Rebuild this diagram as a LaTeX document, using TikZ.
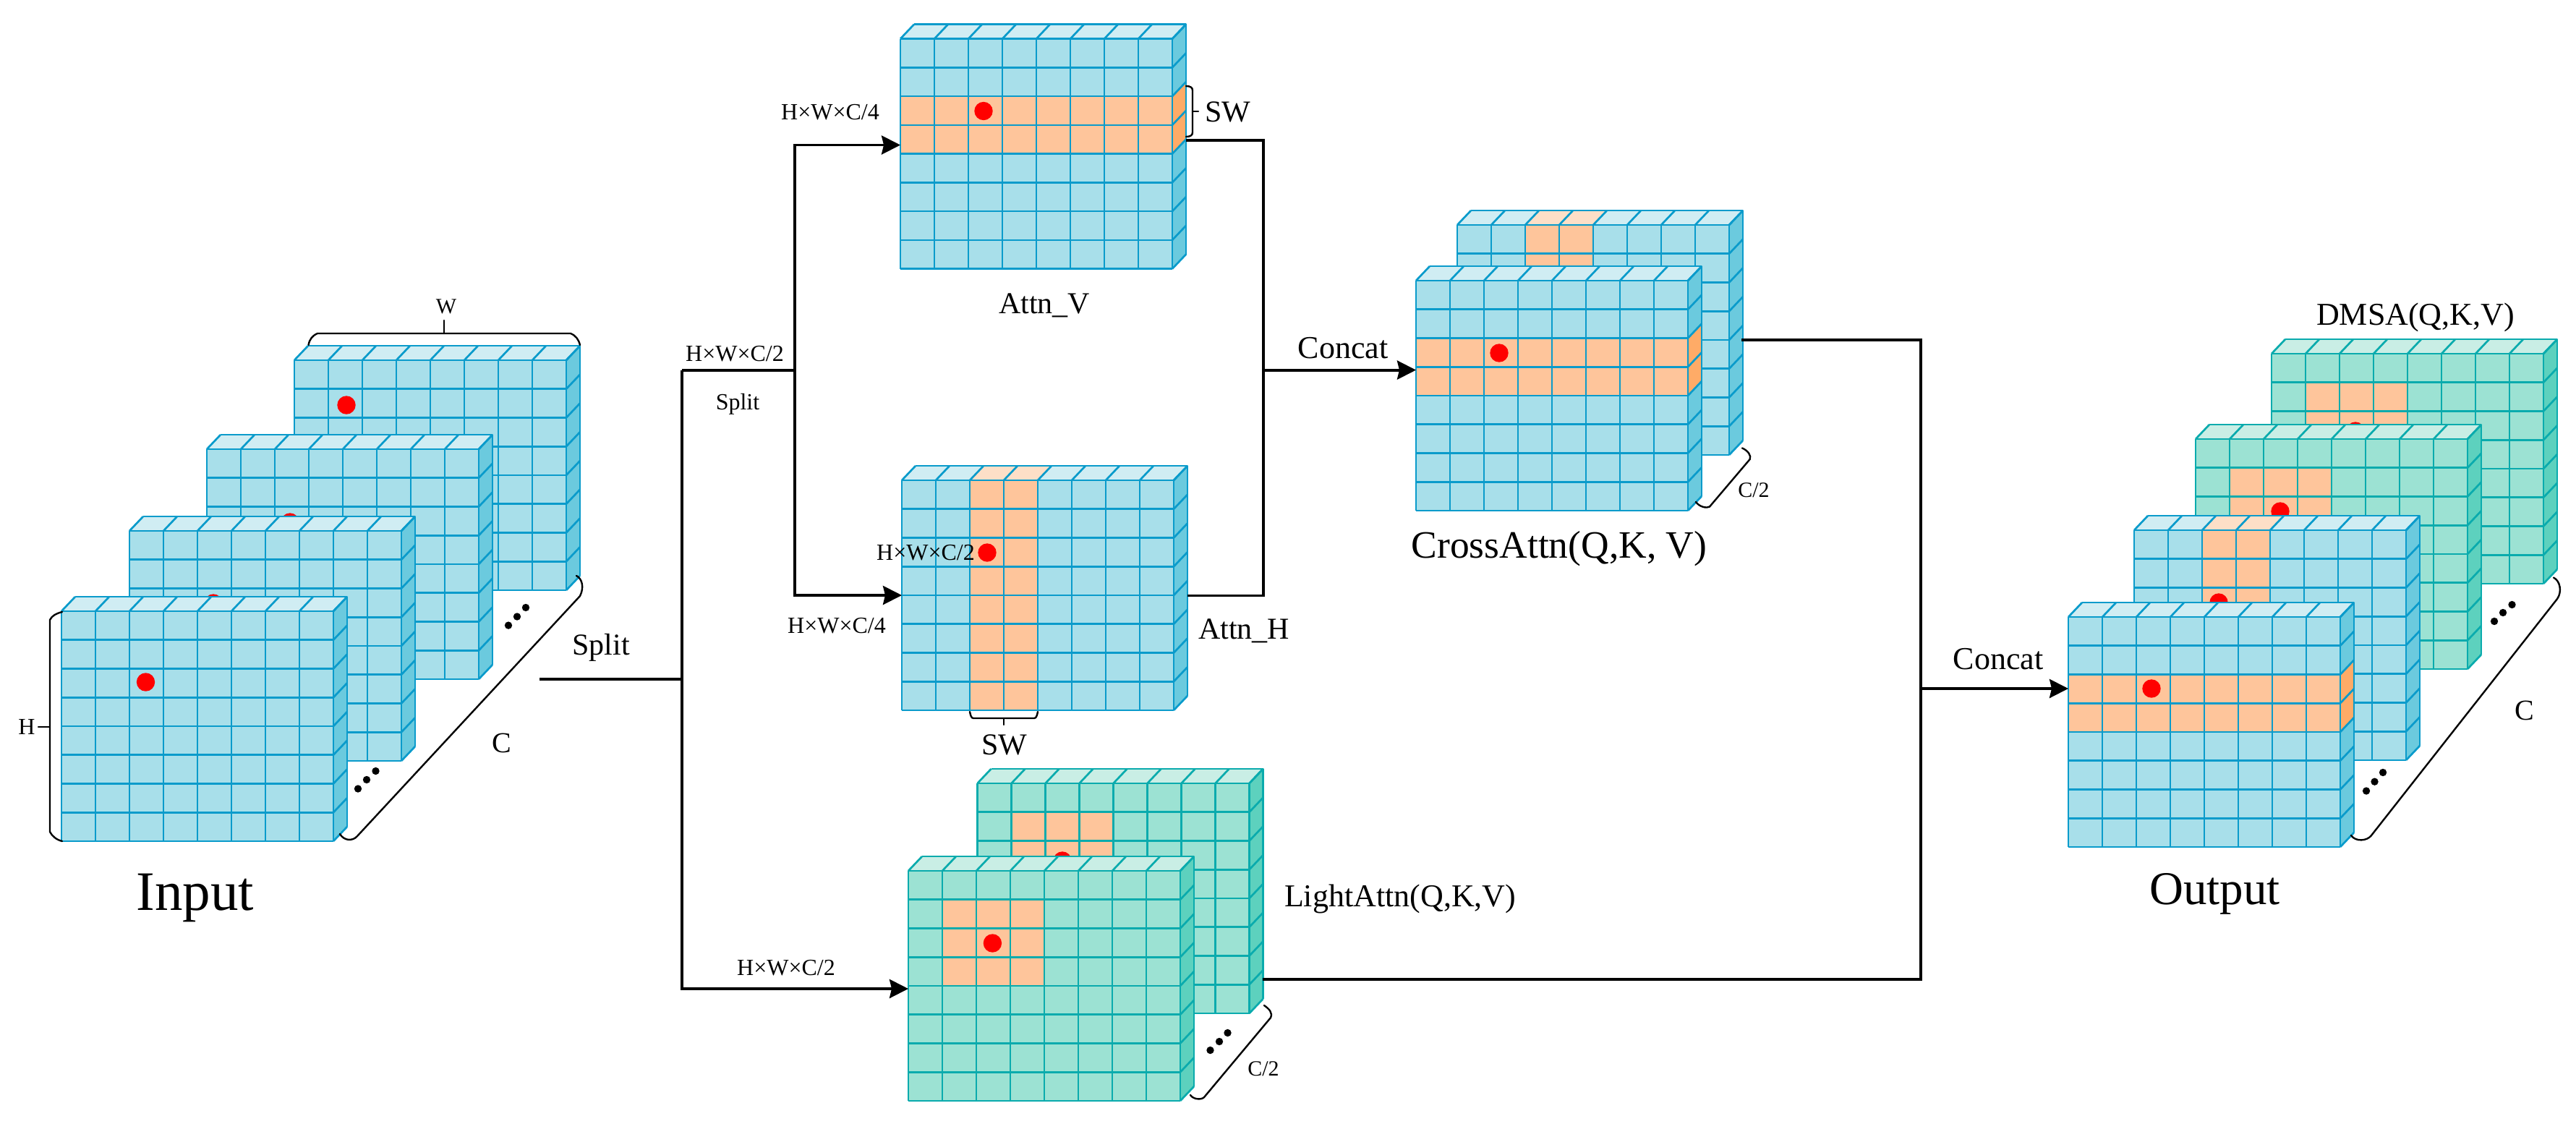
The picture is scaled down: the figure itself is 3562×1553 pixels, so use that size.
\documentclass[tikz,border=0pt]{standalone}
\usepackage{fontspec}
\setmainfont{Liberation Serif}
\usetikzlibrary{arrows.meta}
\definecolor{blueline}{HTML}{0A9BCB}
\definecolor{blueface}{HTML}{A8DFEA}
\definecolor{bluetop}{HTML}{D0EDF3}
\definecolor{blueside}{HTML}{6BCADE}
\definecolor{tealline}{HTML}{0AABAD}
\definecolor{tealface}{HTML}{9CE2D3}
\definecolor{tealtop}{HTML}{C9EEE5}
\definecolor{tealside}{HTML}{5DD1BE}
\definecolor{orface}{HTML}{FEC59B}
\definecolor{ortop}{HTML}{FDDFC7}
\definecolor{orside}{HTML}{FEAB67}
\tikzset{
  slabfront/.style={rectangle,inner sep=0pt,outer sep=0pt,minimum width=376pt,minimum height=318pt,anchor=north west},
  gridl/.style={line width=2.7pt,line join=round},
  dotred/.style={fill={rgb,255:red,255;green,0;blue,0}},
  dotblack/.style={fill=black},
  conn/.style={line width=3.9pt,line join=miter,draw=black},
  connarrow/.style={conn,-{Stealth[length=26pt,width=26pt,inset=3pt]}},
  bracel/.style={line width=2.4pt,draw=black,line cap=round},
  txt/.style={inner sep=0pt,outer sep=0pt,anchor=base,text=black},
  fs30/.style={txt,font=\fontsize{30}{30}\selectfont},
  fs32/.style={txt,font=\fontsize{32}{32}\selectfont},
  fs40/.style={txt,font=\fontsize{40}{40}\selectfont},
  fs42/.style={txt,font=\fontsize{42}{42}\selectfont},
  fs44/.style={txt,font=\fontsize{44}{44}\selectfont},
  fs53/.style={txt,font=\fontsize{53.5}{53.5}\selectfont},
  fs65/.style={txt,font=\fontsize{65}{65}\selectfont},
  fs77/.style={txt,font=\fontsize{77}{77}\selectfont},
}
% name, x, y, palette, c1, c2, r1, r2 (orange block; c2<c1 means none)
\newcommand{\slabdraw}[8]{%
  \colorlet{lnc}{#4line}\colorlet{fcc}{#4face}\colorlet{tpc}{#4top}\colorlet{sdc}{#4side}%
  \node[slabfront] (#1) at (#2,#3) {};
  \begin{scope}[shift={(#2,#3)}]
    \fill[fcc] (0,0) rectangle (376,318);
    \fill[tpc] (0,0) -- (19,-20) -- (395,-20) -- (376,0) -- cycle;
    \fill[sdc] (376,0) -- (395,-20) -- (395,298) -- (376,318) -- cycle;
    \ifnum#6<#5\relax\else
      \fill[orface] ({#5*47},{#7*39.75}) rectangle ({(#6+1)*47},{(#8+1)*39.75});
      \ifnum#7=0
        \fill[ortop] ({#5*47},0) -- ++(19,-20) -- ({(#6+1)*47+19},-20) -- ({(#6+1)*47},0) -- cycle;
      \fi
      \ifnum#5=0 \ifnum#6=7
        \fill[orside] (376,{#7*39.75}) -- (395,{#7*39.75-20}) -- (395,{(#8+1)*39.75-20}) -- (376,{(#8+1)*39.75}) -- cycle;
      \fi\fi
    \fi
    \foreach \i in {0,...,8} {
      \draw[gridl,draw=lnc] ({\i*47},0) -- ({\i*47},318);
      \draw[gridl,draw=lnc] ({\i*47},0) -- ({\i*47+19},-20);
      \draw[gridl,draw=lnc] (0,{\i*39.75}) -- (376,{\i*39.75});
      \draw[gridl,draw=lnc] (376,{\i*39.75}) -- (395,{\i*39.75-20});
    }
    \draw[gridl,draw=lnc] (19,-20) -- (395,-20) -- (395,298);
  \end{scope}
}
\newcommand{\reddot}[2]{\fill[dotred] (#1,#2) circle[radius=12.7pt];}
\newcommand{\threedots}[6]{%
  \fill[dotblack] (#1,#2) circle[radius=5.2pt];
  \fill[dotblack] (#3,#4) circle[radius=5.2pt];
  \fill[dotblack] (#5,#6) circle[radius=5.2pt];}
\begin{document}
\begin{tikzpicture}[x=1pt,y=-1pt]
\path[use as bounding box] (0,0) rectangle (3562,1553);

% ---------- Input stack
\slabdraw{inD}{407}{498}{blue}{0}{-1}{0}{-1}
\reddot{479}{560}
\slabdraw{inC}{286}{621}{blue}{0}{-1}{0}{-1}
\reddot{401}{722}
\slabdraw{inB}{179}{734}{blue}{0}{-1}{0}{-1}
\reddot{295}{834}
\slabdraw{inA}{85}{845}{blue}{0}{-1}{0}{-1}
\reddot{201.5}{943}
\threedots{727}{840}{715}{852.5}{703}{864.6}
\threedots{519.5}{1066}{507}{1078}{495}{1090.5}
% W brace
\draw[bracel] (426.5,477) .. controls (428,469) and (432,464) .. (439,461) -- (789,461) .. controls (796,464) and (800,469) .. (802,477);
\draw[bracel] (614,461) -- (614,443);
% H brace
\draw[bracel] (86,846) .. controls (78,848) and (72,851) .. (69,857) -- (69,1150) .. controls (72,1156) and (78,1161) .. (86,1163);
\draw[bracel] (69,1005) -- (53,1005);
% C brace
\draw[bracel] (797,796) .. controls (805,800) and (808,812) .. (802,824) -- (494,1156) .. controls (488,1163) and (476,1163) .. (470,1153);
\node[fs30] (tW) at (617,433) {W};
\node[fs32] (tH) at (37,1015) {H};
\node[fs40] (tC) at (693.5,1040) {C};
\node[fs42] (tSplit) at (831,905) {Split};
\node[fs77] (tInput) at (270,1258) {Input};

% ---------- Attn_V
\slabdraw{attnV}{1245}{53.6}{blue}{0}{7}{2}{3}
\reddot{1360}{153.5}
\draw[bracel] (1640,119) .. controls (1646,119) and (1649,121) .. (1649,125) -- (1649,183) .. controls (1649,187) and (1646,189) .. (1640,189);
\draw[bracel] (1649,154) -- (1657,154);
\node[fs42] (tSWa) at (1698,168) {SW};
\node[fs42] (tAttnV) at (1444,433) {Attn\_V};
\node[fs32] (tHWCa) at (1148,165) {H×W×C/4};

% ---------- Attn_H
\slabdraw{attnH}{1247}{664}{blue}{2}{3}{0}{7}
\reddot{1365}{764}
\draw[bracel] (1341,984) .. controls (1342,989) and (1343,993) .. (1346,993) -- (1430,993) .. controls (1433,993) and (1434,989) .. (1435,984);
\draw[bracel] (1388,993) -- (1388,1002);
\node[fs42] (tSWb) at (1389,1043) {SW};
\node[fs42] (tAttnH) at (1720,883) {Attn\_H};
\node[fs32] (tHWCb) at (1280,774) {H×W×C/2};
\node[fs32] (tHWCc) at (1157,875) {H×W×C/4};

% ---------- Light attention
\slabdraw{lightB}{1351.5}{1083}{teal}{1}{3}{1}{3}
\reddot{1469}{1190}
\slabdraw{lightA}{1256}{1204}{teal}{1}{3}{1}{3}
\reddot{1372.4}{1304}
\threedots{1697.5}{1428}{1686}{1440}{1673.5}{1452}
\draw[bracel] (1748,1390) .. controls (1755,1395) and (1760,1400) .. (1757,1407) -- (1665,1517) .. controls (1661,1521) and (1650,1520) .. (1646,1514);
\node[fs30] (tC2a) at (1747,1487) {C/2};
\node[fs44,anchor=base west] (tLight) at (1776,1253) {LightAttn(Q,K,V)};
\node[fs32] (tHWCd) at (1087,1348) {H×W×C/2};

% ---------- Cross attention
\slabdraw{crossB}{2015}{311}{blue}{2}{3}{0}{7}
\slabdraw{crossA}{1958}{388}{blue}{0}{7}{2}{3}
\reddot{2073}{488}
\draw[bracel] (2409,619.5) .. controls (2417,623) and (2422,630) .. (2419.6,635) -- (2364,700.5) .. controls (2360,703) and (2350,701) .. (2345,694);
\node[fs30] (tC2b) at (2425,687) {C/2};
\node[fs53] (tCross) at (2156,771) {CrossAttn(Q,K, V)};
\node[fs44] (tConcatA) at (1857,495.5) {Concat};

% ---------- Output stack
\slabdraw{outD}{3141}{489}{teal}{1}{3}{1}{3}
\reddot{3257}{596}
\slabdraw{outC}{3036}{607}{teal}{1}{3}{1}{3}
\reddot{3153}{707}
\slabdraw{outB}{2951}{733}{blue}{2}{3}{0}{7}
\reddot{3068}{833}
\slabdraw{outA}{2860}{853}{blue}{0}{7}{2}{3}
\reddot{2975}{952}
\threedots{3473.5}{836}{3461}{847}{3449}{859}
\threedots{3295}{1068}{3283.5}{1080.7}{3272}{1093.5}
\draw[bracel] (3531,798.6) .. controls (3540,803) and (3543,818) .. (3536,828) -- (3279,1155) .. controls (3273,1163) and (3257,1164) .. (3251,1155);
\node[fs40] (tCb) at (3491,995.5) {C};
\node[fs44] (tDMSA) at (3340,449.6) {DMSA(Q,K,V)};
\node[fs65] (tOutput) at (3062.5,1250) {Output};
\node[fs44] (tConcatB) at (2763,925) {Concat};

% ---------- Upper split labels
\node[fs32] (tHWCe) at (1016,499) {H×W×C/2};
\node[fs32] (tSplitb) at (1020,566) {Split};

% ---------- Connector coordinates
\coordinate (splitStart) at (746,938.6);
\coordinate (jMain) at (943,938.6);
\coordinate (jTop) at (943,511.6);
\coordinate (jBot) at (943,1367);
\coordinate (lightIn) at (1256,1367);
\coordinate (jAttn) at (1099,511.6);
\coordinate (attnTop) at (1099,200.5);
\coordinate (attnBot) at (1099,823);
\coordinate (attnVin) at (1245,200.5);
\coordinate (attnHin) at (1247,823);
\coordinate (attnVout) at (1640,194);
\coordinate (mergeTop) at (1747,194);
\coordinate (mergeBot) at (1747,823.5);
\coordinate (attnHout) at (1642,823.5);
\coordinate (mergeMid) at (1747,511.6);
\coordinate (crossIn) at (1958,511.6);
\coordinate (crossOut) at (2408,470);
\coordinate (finalTop) at (2656,470);
\coordinate (finalBot) at (2656,1354);
\coordinate (lightOut) at (1746,1354);
\coordinate (finalMid) at (2656,952);
\coordinate (outIn) at (2860,952);

% ---------- Connectors
\draw[conn] (splitStart) -- (jMain);
\draw[connarrow] (jTop) -- (jBot) -- (lightIn);
\draw[conn] (jTop) -- (jAttn);
\draw[connarrow] (jAttn) -- (attnTop) -- (attnVin);
\draw[connarrow] (jAttn) -- (attnBot) -- (attnHin);
\draw[conn] (attnVout) -- (mergeTop) -- (mergeBot) -- (attnHout);
\draw[connarrow] (mergeMid) -- (crossIn);
\draw[conn] (crossOut) -- (finalTop) -- (finalBot) -- (lightOut);
\draw[connarrow] (finalMid) -- (outIn);
\end{tikzpicture}
\end{document}
